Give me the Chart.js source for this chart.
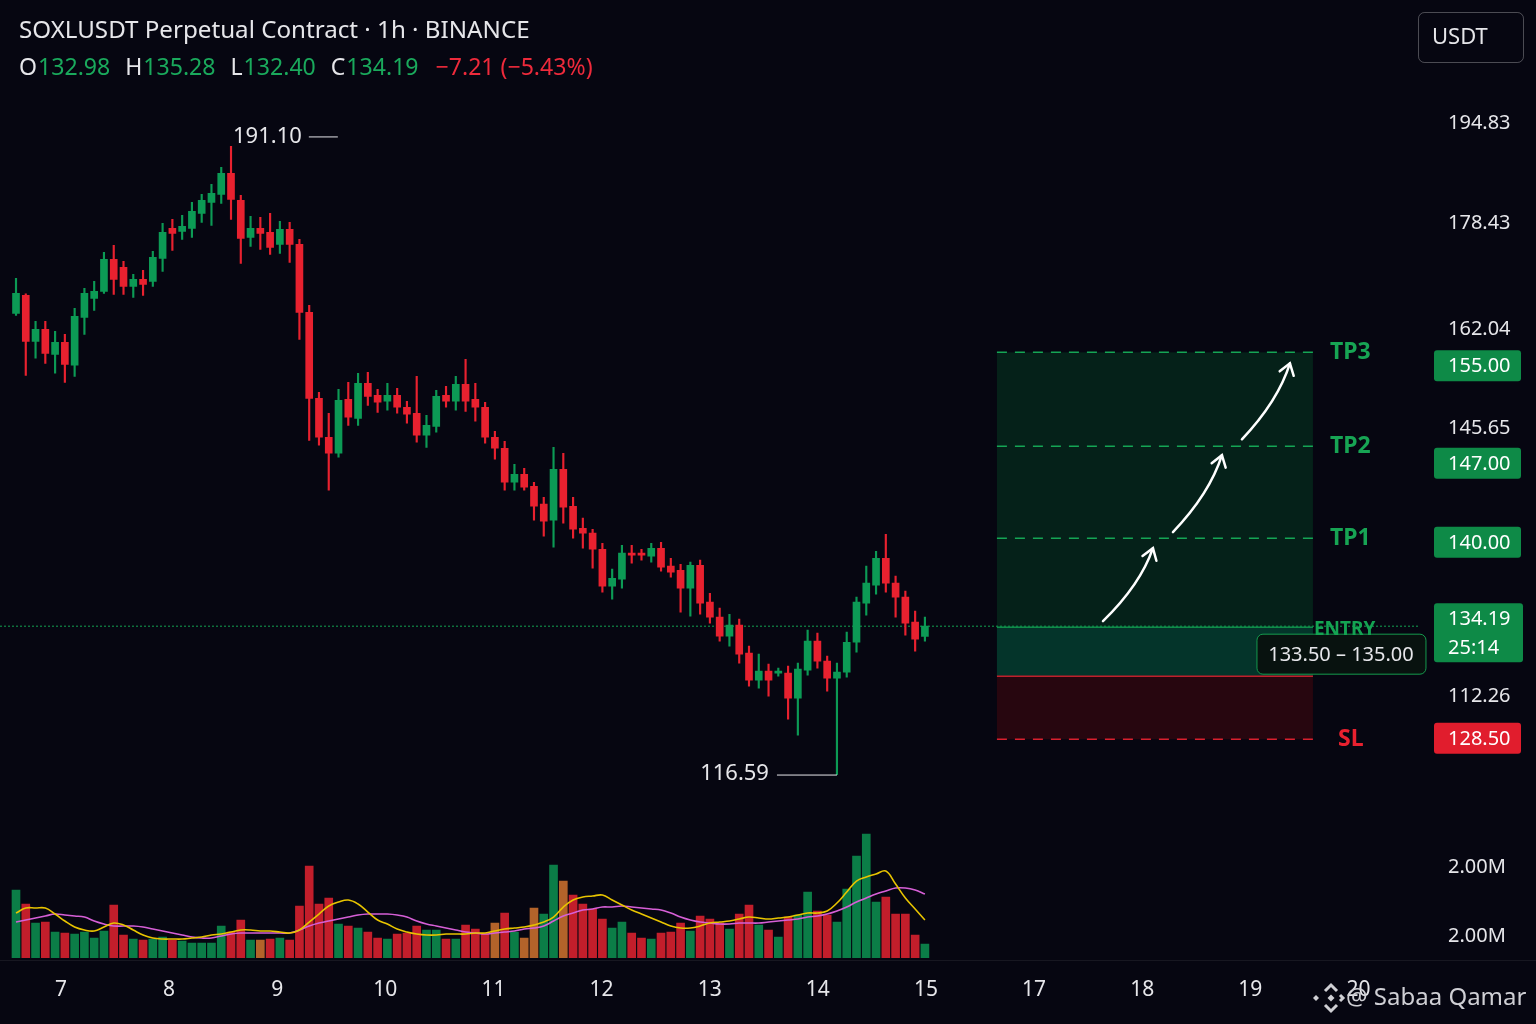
<!DOCTYPE html>
<html>
<head>
<meta charset="utf-8">
<script src="https://cdn.jsdelivr.net/npm/chart.js@4.4.1/dist/chart.umd.min.js"></script>
<style>
  html, body { margin: 0; padding: 0; background: #060611; }
  #wrap { width: 1536px; height: 1024px; position: relative; }
</style>
</head>
<body>
<div id="wrap"><canvas id="chart" width="1536" height="1024"></canvas></div>
<script>
// Candles, one per bar, left to right
const openP = [171.30,173.43,167.98,169.40,166.44,167.86,165.14,170.83,173.08,173.91,
  177.70,176.75,174.50,175.33,175.09,177.82,181.38,181.02,181.38,183.16,
  184.46,185.41,187.90,184.70,180.31,181.38,180.90,179.48,181.26,179.48,
  171.42,161.22,156.60,154.70,161.10,158.85,163.00,161.58,160.87,161.58,
  160.16,159.45,156.84,157.90,161.58,160.87,162.88,161.10,160.16,156.60,
  155.30,151.26,152.21,150.79,148.66,146.76,152.81,148.42,145.81,145.22,
  143.32,138.93,139.76,142.85,142.85,142.49,143.44,141.31,140.83,138.70,
  141.42,137.04,135.26,133.01,134.31,130.99,127.79,128.86,128.62,128.62,
  125.66,128.97,132.41,130.04,128.03,128.74,132.29,136.92,139.05,142.25,
  139.29,137.63,134.67,132.98];
const highP = [175.45,173.60,170.35,170.35,169.17,168.81,171.89,174.26,175.09,178.53,
  179.36,177.47,175.92,176.40,178.65,181.97,182.45,182.92,184.46,185.41,
  186.59,188.61,191.10,185.29,182.80,182.68,183.16,182.21,182.09,180.07,
  172.25,161.93,159.45,162.29,163.12,164.19,164.31,162.29,163.00,162.41,
  160.87,163.83,159.21,162.17,162.65,163.83,165.85,163.00,160.75,157.31,
  156.13,153.40,152.92,151.26,149.49,155.41,154.70,149.49,147.00,145.69,
  144.03,140.95,143.79,143.79,143.32,144.03,144.15,142.25,141.54,141.78,
  142.02,138.10,136.33,135.61,135.02,131.82,130.87,129.69,129.21,129.45,
  129.80,133.72,133.36,130.63,129.80,133.48,137.63,141.31,143.08,145.10,
  140.12,138.34,135.97,135.28];
const lowP = [171.06,163.95,165.97,165.37,164.19,163.12,163.83,168.81,171.66,173.67,
  173.55,173.55,173.20,173.43,174.50,176.28,178.77,180.07,180.31,182.09,
  181.73,184.34,182.45,177.23,179.24,178.89,178.30,178.41,177.35,168.22,
  156.24,155.65,150.32,154.23,158.02,158.02,160.39,159.56,159.80,159.45,
  158.26,156.01,155.41,157.19,160.16,159.80,159.68,158.50,155.89,153.99,
  150.32,150.32,150.32,146.76,144.86,143.56,146.40,144.62,143.44,141.07,
  138.22,137.39,138.70,141.66,142.02,141.78,140.71,140.00,135.85,135.38,
  135.61,134.55,132.41,131.82,129.80,127.08,126.84,125.89,128.26,123.16,
  121.27,128.38,129.21,126.49,116.59,128.15,131.11,135.50,137.99,138.22,
  135.26,133.12,131.23,132.40];
const closeP = [173.67,167.98,169.40,166.56,167.86,165.25,170.95,173.67,173.91,177.70,
  175.33,174.50,175.33,174.74,177.94,180.90,180.79,181.62,183.39,184.70,
  185.53,187.90,184.82,180.19,181.38,180.79,179.13,181.26,179.48,171.42,
  161.22,156.60,154.70,160.99,158.97,163.00,161.46,160.75,161.58,160.16,
  159.33,156.84,158.02,161.46,160.87,162.88,160.87,160.16,156.60,155.30,
  151.26,152.21,150.67,148.42,146.64,152.81,148.30,145.69,145.22,143.32,
  138.93,139.88,142.85,142.61,142.61,143.44,141.19,140.59,138.70,141.42,
  136.92,135.26,133.01,134.31,130.87,127.79,128.86,127.79,128.86,125.66,
  129.09,132.41,130.04,128.03,128.74,132.29,137.04,139.29,142.25,139.29,
  137.63,134.55,132.65,134.19];

// Volume in thousands, its two moving averages, and bar tone (G up, R down, O orange)
const volumeK = [1088,864,560,576,416,400,384,416,320,432,
  848,368,304,288,304,336,288,272,240,240,
  240,512,416,608,288,288,304,320,288,832,
  1472,864,960,544,512,480,416,320,304,384,
  400,512,448,448,304,304,528,464,384,560,
  720,416,320,800,704,1488,1232,1008,864,784,
  624,480,576,400,320,304,400,416,560,432,
  672,624,560,464,704,848,528,448,336,656,
  688,1056,752,688,576,1104,1632,1984,896,976,
  704,704,368,224];
const volFastK = [720,800,800,800,704,592,496,448,432,496,
  560,528,448,368,320,304,304,304,320,336,
  368,384,416,448,448,432,432,416,400,448,
  576,704,832,896,928,864,736,608,544,464,
  416,384,368,368,384,384,384,400,400,432,
  464,480,496,528,576,656,816,928,976,992,
  1008,928,848,768,704,640,576,512,480,480,
  512,560,576,592,624,656,640,624,640,656,
  688,720,720,752,880,1056,1232,1296,1344,1392,
  1184,960,784,608];
const volSlowK = [576,608,640,672,704,688,672,656,592,544,
  512,512,512,496,464,432,400,368,336,320,
  320,352,384,400,400,400,400,400,400,448,
  512,560,592,624,656,688,704,704,704,688,
  656,592,544,512,480,448,416,400,384,400,
  416,432,464,480,512,592,672,720,768,784,
  816,816,832,816,800,784,768,720,656,608,
  576,560,544,544,560,560,560,576,592,608,
  624,656,672,704,752,816,896,960,1024,1072,
  1120,1120,1088,1024];
const volumeTone = 'GRGRGRGGGGRRGRGGRGGGGGRRGORGRRRRRGRGRRGRRRGGRGRRRORGOOGGORRRRGGRRGRRRGRRRGRRGRGRGGRRGGGGGRRRRG';

// Time axis (days of the month)
const firstCandleDay = 6.5838;
const candleStepDays = 0.09039;
const viewStart = 6.4358;
const viewEnd = 19.569;
const dayTickAt = [7, 8, 9, 10, 11, 12, 13, 14, 15, 16, 17, 18, 19];
const dayTickText = ['7', '8', '9', '10', '11', '12', '13', '14', '15', '17', '18', '19', '20'];

// Price axis
const priceMin = 94.83;
const priceMax = 208.41;
const priceTickAt = [193.83, 181.97, 169.40, 157.67, 125.89];
const priceTickText = ['194.83', '178.43', '162.04', '145.65', '112.26'];
const volMaxK = 15328;
const volTickAt = [1456, 352];
const volTickText = ['2.00M', '2.00M'];

// Trade plan drawn on the right
const planStartDay = 15.656;
const planEndDay = 18.579;
const targetNames = ['TP3', 'TP2', 'TP1'];
const targetLevels = [166.68, 155.53, 144.62];
const targetTags = ['155.00', '147.00', '140.00'];
const targetTagAt = [165.14, 153.58, 144.21];
const entryZone = [128.26, 134.19];
const entryText = '133.50 – 135.00';
const stopLevel = 120.79;
const stopTag = '128.50';
const stopTagAt = 120.97;
const arrowFrom = [[16.637, 134.78], [17.284, 145.34], [17.922, 156.36]];
const arrowTo = [[17.099, 143.44], [17.737, 154.47], [18.366, 165.37]];

// Header
const titleText = 'SOXLUSDT Perpetual Contract · 1h · BINANCE';
const changeText = '−7.21 (−5.43%)';
const countdownText = '25:14';

const FONT = '"Noto Sans", "DejaVu Sans", sans-serif';
const BG = '#060611';
const TEXT = '#e6e6ea';
const UP = '#0c9a55';
const DOWN = '#e8212f';
const VOL_COLORS = { G: '#0b7d47', R: '#c21e2b', O: '#b3632a' };

const times = openP.map((_, i) => firstCandleDay + i * candleStepDays);
const candleColors = openP.map((o, i) => closeP[i] >= o ? UP : DOWN);
const last = openP.length - 1;

function font(size, weight) {
  return (weight || '') + ' ' + size + 'px ' + FONT;
}

function drawZones(chart) {
  const { ctx, scales: { x, y } } = chart;
  const x0 = x.getPixelForValue(planStartDay);
  const x1 = x.getPixelForValue(planEndDay);
  const yTop = y.getPixelForValue(targetLevels[0]);
  const yEntryTop = y.getPixelForValue(entryZone[1]);
  const yEntryBot = y.getPixelForValue(entryZone[0]);
  const yStop = y.getPixelForValue(stopLevel);
  ctx.save();
  ctx.fillStyle = '#052119';
  ctx.fillRect(x0, yTop, x1 - x0, yEntryTop - yTop);
  ctx.fillStyle = '#04342a';
  ctx.fillRect(x0, yEntryTop, x1 - x0, yEntryBot - yEntryTop);
  ctx.fillStyle = '#27060f';
  ctx.fillRect(x0, yEntryBot, x1 - x0, yStop - yEntryBot);
  ctx.restore();
}

function drawPlan(chart) {
  const { ctx, scales: { x, y } } = chart;
  const x0 = x.getPixelForValue(planStartDay);
  const x1 = x.getPixelForValue(planEndDay);
  ctx.save();
  // target lines and names
  ctx.setLineDash([10, 8]);
  ctx.lineWidth = 1.5;
  ctx.strokeStyle = '#15a555';
  ctx.textBaseline = 'middle';
  targetLevels.forEach((lv, i) => {
    const py = y.getPixelForValue(lv);
    ctx.beginPath(); ctx.moveTo(x0, py); ctx.lineTo(x1, py); ctx.stroke();
    ctx.fillStyle = '#17a454';
    ctx.font = font(23, 'bold');
    ctx.fillText(targetNames[i], x1 + 17, py);
  });
  const yStop = y.getPixelForValue(stopLevel);
  ctx.strokeStyle = '#d9202e';
  ctx.beginPath(); ctx.moveTo(x0, yStop); ctx.lineTo(x1, yStop); ctx.stroke();
  ctx.fillStyle = '#e8212f';
  ctx.font = font(23, 'bold');
  ctx.fillText('SL', x1 + 25, yStop);
  ctx.setLineDash([]);
  // entry zone edges
  const yEntryTop = y.getPixelForValue(entryZone[1]);
  const yEntryBot = y.getPixelForValue(entryZone[0]);
  ctx.strokeStyle = '#0f8c48';
  ctx.beginPath(); ctx.moveTo(x0, yEntryTop + 1); ctx.lineTo(x1, yEntryTop + 1); ctx.stroke();
  ctx.strokeStyle = '#c01f2b';
  ctx.beginPath(); ctx.moveTo(x0, yEntryBot); ctx.lineTo(x1, yEntryBot); ctx.stroke();
  // entry range box
  const boxY = (yEntryTop + yEntryBot) / 2 - 17;
  ctx.beginPath();
  ctx.roundRect(x1 - 56, boxY, 169, 40, 6);
  ctx.fillStyle = '#08120f';
  ctx.fill();
  ctx.strokeStyle = '#159a4e';
  ctx.lineWidth = 1;
  ctx.stroke();
  ctx.fillStyle = TEXT;
  ctx.font = font(20);
  ctx.textAlign = 'center';
  ctx.fillText(entryText, x1 + 28, boxY + 21);
  ctx.textAlign = 'left';
  ctx.fillStyle = '#14a352';
  ctx.font = font(19, 'bold');
  ctx.fillText('ENTRY', x1 + 1, yEntryTop + 3);
  // curved arrows
  ctx.strokeStyle = '#ffffff';
  ctx.lineWidth = 2.5;
  ctx.lineCap = 'round';
  arrowFrom.forEach((from, i) => {
    const ax = x.getPixelForValue(from[0]), ay = y.getPixelForValue(from[1]);
    const bx = x.getPixelForValue(arrowTo[i][0]), by = y.getPixelForValue(arrowTo[i][1]);
    const cx = ax + 0.75 * (bx - ax), cy = ay + 0.5 * (by - ay);
    ctx.beginPath(); ctx.moveTo(ax, ay); ctx.quadraticCurveTo(cx, cy, bx, by); ctx.stroke();
    const ang = Math.atan2(by - cy, bx - cx);
    ctx.beginPath();
    ctx.moveTo(bx - 13 * Math.cos(ang - 0.6), by - 13 * Math.sin(ang - 0.6));
    ctx.lineTo(bx, by);
    ctx.lineTo(bx - 13 * Math.cos(ang + 0.6), by - 13 * Math.sin(ang + 0.6));
    ctx.stroke();
  });
  ctx.restore();
}

function tag(ctx, left, top, w, h, color, lines) {
  ctx.beginPath();
  ctx.roundRect(left, top, w, h, 3);
  ctx.fillStyle = color;
  ctx.fill();
  ctx.fillStyle = '#ffffff';
  ctx.font = font(20);
  ctx.textBaseline = 'middle';
  ctx.textAlign = 'left';
  const step = h / lines.length;
  lines.forEach((s, i) => ctx.fillText(s, left + 14, top + step * (i + 0.5) + 1));
}

function drawAxisTags(chart) {
  const { ctx, scales: { y, yv } } = chart;
  const left = chart.chartArea.right + 14;
  ctx.save();
  targetTags.forEach((t, i) => {
    const py = y.getPixelForValue(targetTagAt[i]);
    tag(ctx, left, py - 15, 87, 31, '#0e8a47', [t]);
  });
  const pc = y.getPixelForValue(closeP[last]);
  tag(ctx, left, pc - 23, 89, 59, '#0e8a47', [closeP[last].toFixed(2), countdownText]);
  const ps = y.getPixelForValue(stopTagAt);
  tag(ctx, left, ps - 15, 87, 31, '#e11d2d', [stopTag]);
  ctx.fillStyle = TEXT;
  ctx.font = font(20);
  ctx.textBaseline = 'middle';
  volTickAt.forEach((v, i) => ctx.fillText(volTickText[i], left + 14, yv.getPixelForValue(v)));
  // currency button
  ctx.beginPath();
  ctx.roundRect(1418.5, 12.5, 105, 50, 6);
  ctx.strokeStyle = 'rgba(255,255,255,0.28)';
  ctx.lineWidth = 1;
  ctx.stroke();
  ctx.fillStyle = TEXT;
  ctx.font = font(22);
  ctx.fillText('USDT', 1432, 38);
  ctx.restore();
}

function drawExtremes(chart) {
  const { ctx, scales: { x, y } } = chart;
  const hi = highP.indexOf(Math.max(...highP));
  const lo = lowP.indexOf(Math.min(...lowP));
  ctx.save();
  ctx.font = font(22);
  ctx.fillStyle = TEXT;
  ctx.strokeStyle = TEXT;
  ctx.lineWidth = 1;
  ctx.textBaseline = 'middle';
  const hx = x.getPixelForValue(times[hi]) + 2;
  const hy = y.getPixelForValue(highP[hi]) - 10;
  const hs = highP[hi].toFixed(2);
  ctx.fillText(hs, hx, hy);
  const hw = ctx.measureText(hs).width;
  ctx.beginPath(); ctx.moveTo(hx + hw + 7, hy + 0.5); ctx.lineTo(hx + hw + 36, hy + 0.5); ctx.stroke();
  const lx = x.getPixelForValue(times[lo]);
  const ly = y.getPixelForValue(lowP[lo]);
  ctx.beginPath(); ctx.moveTo(lx - 60, ly + 0.5); ctx.lineTo(lx, ly + 0.5); ctx.stroke();
  ctx.textAlign = 'right';
  ctx.fillText(lowP[lo].toFixed(2), lx - 68, ly - 1);
  ctx.restore();
}

function drawHeader(chart) {
  const ctx = chart.ctx;
  ctx.save();
  ctx.textBaseline = 'middle';
  ctx.textAlign = 'left';
  ctx.font = font(23);
  const size = 23 * 511 / ctx.measureText(titleText).width;
  ctx.font = font(size);
  ctx.fillStyle = TEXT;
  ctx.fillText(titleText, 19, 31);
  const keys = ['O', 'H', 'L', 'C'];
  const vals = [openP[last], highP[last], lowP[last], closeP[last]];
  // fit the OHLC row to its width in the picture
  ctx.font = font(23);
  let full = ctx.measureText(changeText).width + 2;
  keys.forEach((k, i) => { full += ctx.measureText(k + vals[i].toFixed(2)).width + 16; });
  ctx.font = font(23 * 574 / full);
  let px = 19;
  keys.forEach((k, i) => {
    ctx.fillStyle = TEXT;
    ctx.fillText(k, px, 68);
    px += ctx.measureText(k).width + 1;
    const s = vals[i].toFixed(2);
    ctx.fillStyle = '#1aa95c';
    ctx.fillText(s, px, 68);
    px += ctx.measureText(s).width + 15;
  });
  ctx.fillStyle = '#ee2a3b';
  ctx.fillText(changeText, px + 2, 68);
  ctx.restore();
}

function drawWatermark(chart) {
  const ctx = chart.ctx;
  ctx.save();
  ctx.fillStyle = '#cfcfd4';
  const cx = 1331, cy = 998;
  const diamond = (x, y, r) => {
    ctx.beginPath();
    ctx.moveTo(x, y - r); ctx.lineTo(x + r, y); ctx.lineTo(x, y + r); ctx.lineTo(x - r, y);
    ctx.closePath(); ctx.fill();
  };
  diamond(cx - 15, cy, 3);
  diamond(cx, cy, 3.5);
  ctx.strokeStyle = '#cfcfd4';
  ctx.lineWidth = 3;
  ctx.beginPath();
  ctx.moveTo(cx - 6, cy - 7); ctx.lineTo(cx, cy - 13); ctx.lineTo(cx + 6, cy - 7);
  ctx.moveTo(cx - 6, cy + 7); ctx.lineTo(cx, cy + 13); ctx.lineTo(cx + 6, cy + 7);
  ctx.moveTo(cx + 9, cy - 3); ctx.lineTo(cx + 12, cy); ctx.lineTo(cx + 9, cy + 3);
  ctx.stroke();
  ctx.font = font(24);
  ctx.textBaseline = 'middle';
  ctx.fillText('@ Sabaa Qamar', 1346, 998);
  ctx.restore();
}

const overlay = {
  id: 'overlay',
  beforeDraw(chart) {
    const ctx = chart.ctx;
    ctx.save();
    ctx.fillStyle = BG;
    ctx.fillRect(0, 0, chart.width, chart.height);
    ctx.restore();
  },
  beforeDatasetsDraw(chart) {
    drawZones(chart);
  },
  afterDraw(chart) {
    const ctx = chart.ctx;
    ctx.save();
    ctx.strokeStyle = 'rgba(255,255,255,0.07)';
    ctx.beginPath();
    ctx.moveTo(0, chart.chartArea.bottom + 2.5);
    ctx.lineTo(chart.width, chart.chartArea.bottom + 2.5);
    ctx.stroke();
    ctx.restore();
    drawPlan(chart);
    drawExtremes(chart);
    drawAxisTags(chart);
    drawHeader(chart);
    drawWatermark(chart);
  }
};

new Chart(document.getElementById('chart'), {
  type: 'bar',
  data: {
    datasets: [
      {
        label: 'Volume',
        yAxisID: 'yv',
        data: times.map((t, i) => ({ x: t, y: volumeK[i] })),
        backgroundColor: volumeTone.split('').map(c => VOL_COLORS[c]),
        barThickness: 8,
        grouped: false,
        order: 6
      },
      {
        type: 'line',
        label: 'Volume MA fast',
        yAxisID: 'yv',
        data: times.map((t, i) => ({ x: t, y: volFastK[i] })),
        borderColor: '#e8c400',
        borderWidth: 1.6,
        pointRadius: 0,
        tension: 0.4,
        order: 4
      },
      {
        type: 'line',
        label: 'Volume MA slow',
        yAxisID: 'yv',
        data: times.map((t, i) => ({ x: t, y: volSlowK[i] })),
        borderColor: '#d65fd6',
        borderWidth: 1.6,
        pointRadius: 0,
        tension: 0.4,
        order: 5
      },
      {
        type: 'line',
        label: 'Last price',
        yAxisID: 'y',
        data: [{ x: viewStart, y: closeP[last] }, { x: viewEnd, y: closeP[last] }],
        borderColor: '#14a352',
        borderWidth: 1,
        borderDash: [2, 2],
        pointRadius: 0,
        order: 3
      },
      {
        label: 'Wicks',
        yAxisID: 'y',
        data: times.map((t, i) => ({ x: t, y: [lowP[i], highP[i]] })),
        backgroundColor: candleColors,
        barThickness: 1.5,
        grouped: false,
        order: 2
      },
      {
        label: 'Bodies',
        yAxisID: 'y',
        data: times.map((t, i) => ({ x: t, y: [openP[i], closeP[i]] })),
        backgroundColor: candleColors,
        barThickness: 7,
        minBarLength: 1.5,
        grouped: false,
        order: 1
      }
    ]
  },
  options: {
    responsive: false,
    animation: false,
    devicePixelRatio: 1,
    layout: { padding: 0 },
    plugins: { legend: { display: false }, tooltip: { enabled: false } },
    scales: {
      x: {
        type: 'linear',
        min: viewStart,
        max: viewEnd,
        offset: false,
        grid: { display: true, color: 'transparent', drawOnChartArea: false, drawTicks: true, tickLength: 19, offset: false },
        border: { display: false },
        ticks: {
          color: TEXT,
          font: { family: FONT, size: 21 },
          padding: 0,
          autoSkip: false,
          maxRotation: 0,
          callback: (v, i) => dayTickText[i]
        },
        afterBuildTicks: s => { s.ticks = dayTickAt.map(v => ({ value: v })); },
        afterFit: s => { s.height = 66; }
      },
      y: {
        type: 'linear',
        position: 'right',
        min: priceMin,
        max: priceMax,
        grid: { display: true, color: 'transparent', drawOnChartArea: false, drawTicks: true, tickLength: 28 },
        border: { display: false },
        ticks: {
          color: TEXT,
          // tiny line height so the labels ask for no extra room above the plot
          font: { family: FONT, size: 20, lineHeight: 0.05 },
          padding: 0,
          callback: (v, i) => priceTickText[i]
        },
        afterBuildTicks: s => { s.ticks = priceTickAt.map(v => ({ value: v })); },
        afterFit: s => { s.width = 116; }
      },
      yv: {
        type: 'linear',
        display: false,
        min: 0,
        max: volMaxK
      }
    }
  },
  plugins: [overlay]
});
</script>
</body>
</html>
